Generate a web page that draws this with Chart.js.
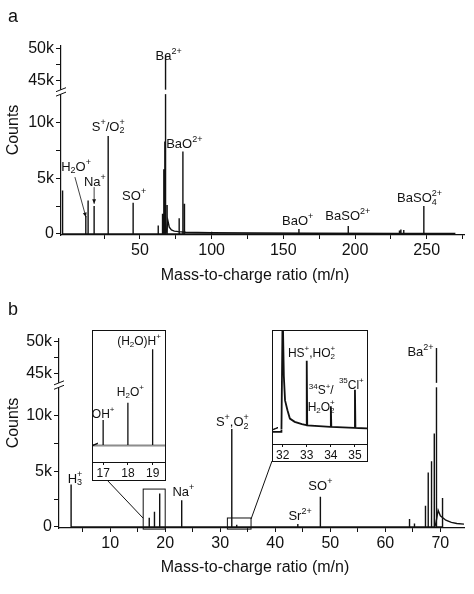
<!DOCTYPE html>
<html lang="en">
<head>
<meta charset="UTF-8">
<title>Mass spectra</title>
<style>
  body { margin: 0; background: #fff; width: 474px; height: 594px; position: relative; overflow: hidden; font-family: "Liberation Sans", Arial, sans-serif; }
  .abs { position: absolute; }
  .inset { position: absolute; background: #fff; border: 1px solid #111; box-sizing: border-box; }
</style>
</head>
<body>
<canvas id="ca" class="abs" style="left:0px;top:0px" width="474" height="290"></canvas>
<canvas id="cb" class="abs" style="left:0px;top:300px" width="474" height="294"></canvas>
<div class="inset" style="left:92px;top:330px;width:74px;height:151px"><canvas id="i1" width="72" height="149"></canvas></div>
<div class="inset" style="left:272px;top:330px;width:96px;height:132px"><canvas id="i2" width="94" height="130"></canvas></div>

<script src="https://cdn.jsdelivr.net/npm/chart.js@4/dist/chart.umd.min.js"></script>
<script>
// ---- data (counts in thousands) ----
const aPeakX = [-3.9, 12.3, 13.9, 18.1, 27.9, 45.3, 62.8, 65.8, 66.7, 67.4, 67.9, 69.0, 77.4, 80.0, 81.1, 100, 160.9, 195.3, 231, 232, 234, 248];
const aPeakH = [3.9, 1.6, 3.0, 2.5, 8.8, 2.8, 0.75, 1.8, 5.8, 8.3, 49, 2.6, 1.4, 7.4, 2.7, 0.2, 0.45, 0.7, 0.3, 0.4, 0.35, 2.5];
const aTailX = [68.5, 69.5, 70.5, 72, 74, 77, 82, 90, 100, 130, 170, 230, 270];
const aTailH = [0.1, 1.2, 0.6, 0.35, 0.25, 0.2, 0.15, 0.12, 0.1, 0.08, 0.06, 0.05, 0.04];

const bPeakX = [2.9, 17.1, 18.05, 19.0, 23.0, 32.1, 33.0, 44.1, 48.2, 64.4, 65.3, 67.3, 67.8, 68.4, 68.9, 69.3, 70.4];
const bPeakH = [3.8, 0.83, 1.37, 3.0, 2.4, 8.8, 0.2, 0.25, 2.7, 0.7, 0.3, 1.9, 4.9, 5.9, 8.4, 49, 2.6];
const bTailX = [69.1, 69.6, 70, 71, 72, 73, 74.3];
const bTailH = [0.1, 1.5, 1.0, 0.6, 0.4, 0.3, 0.25];

// insets (arbitrary intensity 0-100)
const i1PeakX = [17, 18, 19];
const i1PeakH = [32, 45.3, 86];
const i1Base = 12.6;
const i2X = [31.6, 31.95, 32.0, 32.05, 32.1, 32.2, 32.3, 32.5, 32.8, 32.98, 33.0, 33.02, 33.5, 33.98, 34.0, 34.02, 34.5, 34.98, 35.0, 35.02, 35.5];
const i2H = [10.8, 10.8, 120, 60, 38.6, 29.8, 22.5, 19.6, 17.5, 16.7, 73.7, 16.5, 15.8, 15.2, 33.3, 15.1, 14.7, 14.3, 48, 14.2, 13.7];

const yTickVals = [0, 2.5, 5, 7.5, 10, 45, 47.5, 50];
const yTickText = ['0', '', '5k', '', '10k', '45k', '', '50k'];
const aXTicks = [25, 50, 75, 100, 125, 150, 175, 200, 225, 250, 275];
const bXTicks = [5, 10, 15, 20, 25, 30, 35, 40, 45, 50, 55, 60, 65, 70];

// broken axis: linear to 12.5k, then compressed above 45k
function disp(v) { return v <= 12.5 ? v : 13.76 + (v - 45) * 0.58; }

function sticks(xs, hs, f) {
  const pts = [];
  xs.forEach((x, i) => { pts.push({x: x, y: 0}, {x: x, y: f(hs[i])}, {x: x, y: 0}); });
  return pts;
}
function line(xs, hs, f) { return xs.map((x, i) => ({x: x, y: f(hs[i])})); }

const FONT = '"Liberation Sans", Arial, sans-serif';

// rich text: parts {t, sup, sub}
function rich(ctx, parts, cx, cy, size) {
  size = size || 13;
  const small = Math.round(size * 0.68);
  let w = 0;
  parts.forEach(p => {
    ctx.font = size + 'px ' + FONT; let a = p.t ? ctx.measureText(p.t).width : 0;
    ctx.font = small + 'px ' + FONT;
    let b = Math.max(p.sup ? ctx.measureText(p.sup).width : 0, p.sub ? ctx.measureText(p.sub).width : 0);
    w += a + b;
  });
  let x = cx - w / 2;
  ctx.fillStyle = '#111'; ctx.textBaseline = 'middle'; ctx.textAlign = 'left';
  parts.forEach(p => {
    ctx.font = size + 'px ' + FONT;
    if (p.t) { ctx.fillText(p.t, x, cy); x += ctx.measureText(p.t).width; }
    ctx.font = small + 'px ' + FONT;
    let b = 0;
    if (p.sup) { ctx.fillText(p.sup, x, cy - size * 0.38); b = ctx.measureText(p.sup).width; }
    if (p.sub) { ctx.fillText(p.sub, x, cy + size * 0.3); b = Math.max(b, ctx.measureText(p.sub).width); }
    x += b;
  });
}

function annotate(labels, extra) {
  return {
    id: 'ann',
    afterDatasetsDraw(chart) {
      const ctx = chart.ctx, xs = chart.scales.x, ys = chart.scales.y, ca = chart.chartArea;
      ctx.save();
      if (ys.max > 14) {
        // break band
        const y1 = ys.getPixelForValue(12.55), y2 = ys.getPixelForValue(12.95);
        ctx.fillStyle = '#fff';
        ctx.fillRect(ca.left - 6, y2, ca.right - ca.left + 6, y1 - y2);
        ctx.strokeStyle = '#111'; ctx.lineWidth = 1;
        [y1, y2].forEach(y => { ctx.beginPath(); ctx.moveTo(ca.left - 5, y + 2); ctx.lineTo(ca.left + 5, y - 2); ctx.stroke(); });
      }
      labels.forEach(l => rich(ctx, l.parts, xs.getPixelForValue(l.x), ys.getPixelForValue(l.y), l.size));
      if (extra) extra(ctx, xs, ys);
      ctx.restore();
    }
  };
}

function axisTitles(yTitleY, xTitleY) {
  return {
    id: 'titles',
    afterDraw(chart) {
      const ctx = chart.ctx;
      ctx.save();
      ctx.fillStyle = '#111'; ctx.font = '16px ' + FONT; ctx.textAlign = 'center'; ctx.textBaseline = 'middle';
      ctx.fillText('Mass-to-charge ratio (m/n)', 255, xTitleY);
      ctx.translate(14, yTitleY); ctx.rotate(-Math.PI / 2);
      ctx.fillText('Counts', 0, 0);
      ctx.restore();
    }
  };
}

function mainOptions(xmin, xmax, xTicks, yAxisW, xAxisH, padTop) {
  return {
    responsive: false, animation: false,
    layout: { padding: { top: padTop, right: 10, left: 0, bottom: 0 } },
    plugins: { legend: { display: false }, tooltip: { enabled: false } },
    elements: { point: { radius: 0 }, line: { borderWidth: 1.4, tension: 0 } },
    scales: {
      x: {
        type: 'linear', min: xmin, max: xmax,
        afterFit(s) { s.height = xAxisH; },
        afterBuildTicks(s) { s.ticks = xTicks.map(v => ({value: v})); },
        ticks: { color: '#111', font: { size: 16, family: FONT }, maxRotation: 0, padding: 2,
                 callback: (v) => (v % (xTicks === aXTicks ? 50 : 10) === 0 ? String(v) : '') },
        grid: { drawOnChartArea: false, tickLength: 4, color: '#111' },
        border: { color: '#111', width: 1.2 }
      },
      y: {
        type: 'linear', min: -0.1, max: 16.9,
        afterFit(s) { s.width = yAxisW; },
        afterBuildTicks(s) { s.ticks = yTickVals.map(v => ({value: disp(v)})); },
        ticks: { color: '#111', font: { size: 16, family: FONT }, padding: 2,
                 callback: (v, i) => yTickText[i] },
        grid: { drawOnChartArea: false, tickLength: 5, color: '#111' },
        border: { color: '#111', width: 1.2 }
      }
    }
  };
}

const sup = (t, s) => ({t: t, sup: s});

// ---- panel a ----
const aLabels = [
  {x: 70, y: 15.9, parts: [sup('Ba', '2+')]},
  {x: 27.9, y: 9.6, parts: [sup('S', '+'), {t: '/O', sub: '2', sup: '+'}]},
  {x: 81, y: 8.0, parts: [sup('BaO', '2+')]},
  {x: 5.5, y: 6.0, parts: [{t: 'H', sub: '2'}, sup('O', '+')]},
  {x: 18.6, y: 4.6, parts: [sup('Na', '+')]},
  {x: 46, y: 3.4, parts: [sup('SO', '+')]},
  {x: 160, y: 1.16, parts: [sup('BaO', '+')]},
  {x: 195, y: 1.55, parts: [sup('BaSO', '2+')]},
  {x: 245, y: 3.2, parts: [{t: 'BaSO', sub: '4', sup: '2+'}]}
];
function arrow(ctx, x1, y1, x2, y2) {
  ctx.strokeStyle = '#111'; ctx.fillStyle = '#111'; ctx.lineWidth = 0.8;
  ctx.beginPath(); ctx.moveTo(x1, y1); ctx.lineTo(x2, y2); ctx.stroke();
  const a = Math.atan2(y2 - y1, x2 - x1);
  ctx.beginPath(); ctx.moveTo(x2, y2);
  ctx.lineTo(x2 - 5 * Math.cos(a - 0.4), y2 - 5 * Math.sin(a - 0.4));
  ctx.lineTo(x2 - 5 * Math.cos(a + 0.4), y2 - 5 * Math.sin(a + 0.4));
  ctx.fill();
}
new Chart(document.getElementById('ca'), {
  type: 'line',
  data: { datasets: [
    { data: sticks(aPeakX, aPeakH, disp), borderColor: '#111' },
    { data: line(aTailX, aTailH, disp), borderColor: '#111' }
  ] },
  options: Object.assign(mainOptions(-5, 276, aXTicks, 61, 55, 45.7), { parsing: false }),
  plugins: [annotate(aLabels, (ctx, xs, ys) => {
    arrow(ctx, xs.getPixelForValue(4.7), ys.getPixelForValue(5.1), xs.getPixelForValue(12.4), ys.getPixelForValue(1.5));
    arrow(ctx, xs.getPixelForValue(18.1), ys.getPixelForValue(4.2), xs.getPixelForValue(18.1), ys.getPixelForValue(2.7));
  }), axisTitles(130, 276), {
    id: 'tag', afterDraw(c) { c.ctx.save(); c.ctx.font = '18px ' + FONT; c.ctx.fillStyle = '#111'; c.ctx.fillText('a', 8, 22); c.ctx.restore(); }
  }]
});

// ---- panel b ----
const bLabels = [
  {x: 3.6, y: 4.3, parts: [sup('H', ''), {t: '', sub: '3', sup: '+'}]},
  {x: 23.3, y: 3.1, parts: [sup('Na', '+')]},
  {x: 32.2, y: 9.4, parts: [sup('S', '+'), {t: ',O', sub: '2', sup: '+'}]},
  {x: 44.5, y: 0.95, parts: [sup('Sr', '2+')]},
  {x: 48.2, y: 3.65, parts: [sup('SO', '+')]},
  {x: 66.4, y: 15.7, parts: [sup('Ba', '2+')]}
];
new Chart(document.getElementById('cb'), {
  type: 'line',
  data: { datasets: [
    { data: sticks(bPeakX, bPeakH, disp), borderColor: '#111' },
    { data: line(bTailX, bTailH, disp), borderColor: '#111' }
  ] },
  options: Object.assign(mainOptions(0.7, 74.3, bXTicks, 59, 66, 38.9), { parsing: false }),
  plugins: [annotate(bLabels, (ctx, xs, ys) => {
    ctx.strokeStyle = '#111'; ctx.lineWidth = 1;
    const rect = (x1, x2, y1, y2) => {
      const px1 = xs.getPixelForValue(x1), px2 = xs.getPixelForValue(x2);
      const py1 = ys.getPixelForValue(y1), py2 = ys.getPixelForValue(y2);
      ctx.strokeRect(px1, py2, px2 - px1, py1 - py2);
    };
    rect(16, 20, -0.2, 3.4);
    rect(31.3, 35.6, -0.2, 0.8);
    ctx.beginPath();
    ctx.moveTo(107, 180); ctx.lineTo(xs.getPixelForValue(16), ys.getPixelForValue(0.78));
    ctx.moveTo(272, 161); ctx.lineTo(xs.getPixelForValue(35.6), ys.getPixelForValue(0.7));
    ctx.stroke();
  }), axisTitles(123, 268), {
    id: 'tag', afterDraw(c) { c.ctx.save(); c.ctx.font = '18px ' + FONT; c.ctx.fillStyle = '#111'; c.ctx.fillText('b', 8, 15); c.ctx.restore(); }
  }]
});

// ---- insets ----
function insetOptions(xmin, xmax, ticks, xAxisH) {
  return {
    responsive: false, animation: false, parsing: false,
    layout: { padding: 0 },
    plugins: { legend: { display: false }, tooltip: { enabled: false } },
    elements: { point: { radius: 0 }, line: { borderWidth: 1.3, tension: 0 } },
    scales: {
      x: {
        type: 'linear', min: xmin, max: xmax,
        afterFit(s) { s.height = xAxisH; },
        afterBuildTicks(s) { s.ticks = ticks.map(v => ({value: v})); },
        ticks: { color: '#111', font: { size: 12, family: FONT }, maxRotation: 0, padding: 1 },
        grid: { drawOnChartArea: false, tickLength: 3, color: '#111' },
        border: { color: '#111', width: 1 }
      },
      y: { display: false, min: 0, max: 100 }
    }
  };
}
const i1Labels = [
  {x: 17.0, y: 36, size: 12, parts: [sup('OH', '+')]},
  {x: 18.1, y: 53, size: 12, parts: [{t: 'H', sub: '2'}, sup('O', '+')]},
  {x: 18.45, y: 92, size: 12, parts: [{t: '(H', sub: '2'}, sup('O)H', '+')]}
];
const i1Data = [{x: 16.59, y: i1Base}];
i1PeakX.forEach((x, i) => { i1Data.push({x: x, y: i1Base}, {x: x, y: i1PeakH[i]}, {x: x, y: i1Base}); });
i1Data.push({x: 19.5, y: i1Base});
new Chart(document.getElementById('i1'), {
  type: 'line',
  data: { datasets: [{ data: i1Data, borderColor: '#111' }] },
  options: insetOptions(16.59, 19.5, [17, 18, 19], 18),
  plugins: [annotate(i1Labels)]
});
const i2Labels = [
  {x: 33.2, y: 80, size: 12, parts: [sup('HS', '+'), {t: ',HO', sub: '2', sup: '+'}]},
  {x: 33.6, y: 47, size: 12, parts: [{t: '', sup: '34'}, sup('S', '+'), {t: '/'}]},
  {x: 33.6, y: 32.5, size: 12, parts: [{t: 'H', sub: '2'}, {t: 'O', sub: '2', sup: '+'}]},
  {x: 34.85, y: 52, size: 12, parts: [{t: '', sup: '35'}, sup('Cl', '+')]}
];
new Chart(document.getElementById('i2'), {
  type: 'line',
  data: { datasets: [{ data: line(i2X, i2H, v => v), borderColor: '#111', borderWidth: 1.8 }] },
  options: insetOptions(31.6, 35.5, [32, 33, 34, 35], 17),
  plugins: [annotate(i2Labels)]
});
</script>
</body>
</html>
